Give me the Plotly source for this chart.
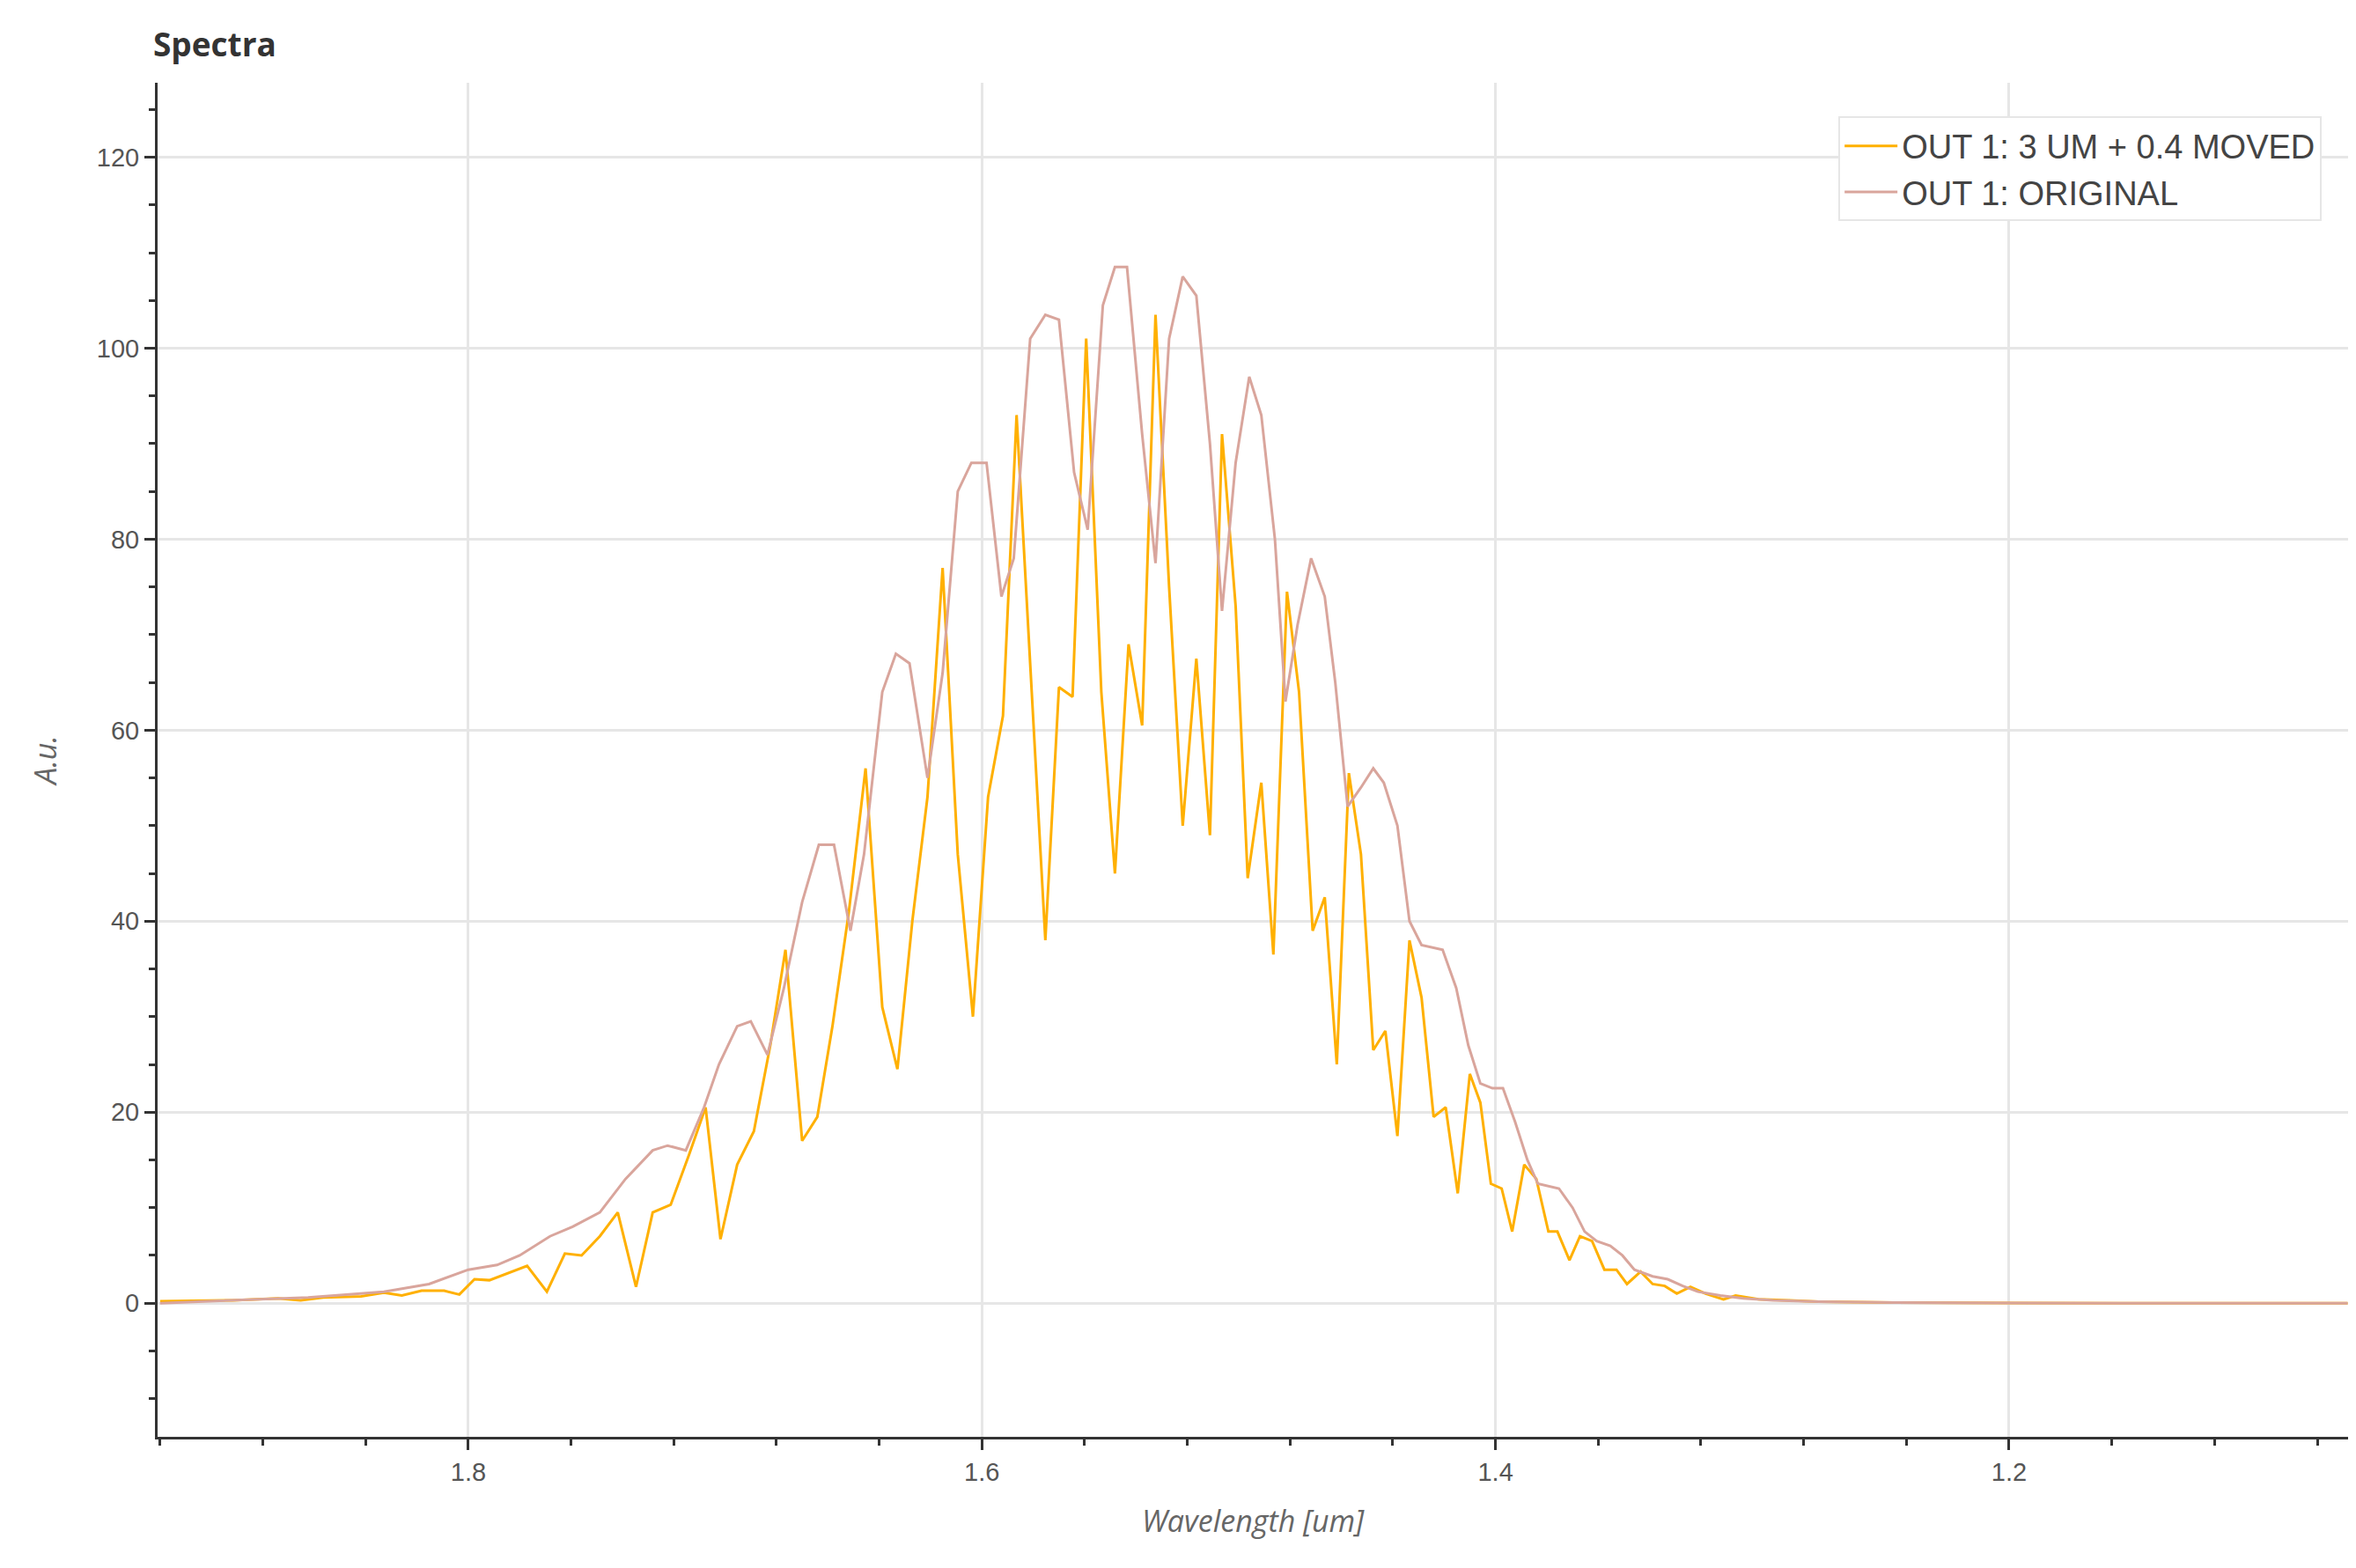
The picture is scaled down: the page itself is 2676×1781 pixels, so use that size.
import plotly.graph_objects as go

wl_orig = [1.92,1.8918,1.8624,1.8329,1.8153,1.8,1.7888,1.78,1.7682,1.7594,1.7488,1.7388,1.7282,1.7224,1.7153,1.7082,1.7024,1.6953,1.69,1.6835,1.6771,1.67,1.6635,1.6576,1.6512,1.6459,1.6388,1.6335,1.6282,1.6212,1.6153,1.6094,1.6041,1.5982,1.5924,1.5876,1.5812,1.5753,1.57,1.5641,1.5588,1.5529,1.5482,1.5435,1.5376,1.5324,1.5271,1.5218,1.5165,1.5112,1.5065,1.5012,1.4959,1.4912,1.4859,1.4818,1.4771,1.4718,1.4665,1.4624,1.4576,1.4524,1.4476,1.4435,1.4382,1.4335,1.4288,1.4206,1.4153,1.4106,1.4059,1.4012,1.3971,1.3924,1.3876,1.3835,1.3753,1.37,1.3653,1.3606,1.3553,1.3506,1.3459,1.3388,1.3329,1.3271,1.3212,1.3124,1.3035,1.2918,1.2741,1.2447,1.2153,1.1565,1.0682]
val_orig = [0,0.3,0.6,1.2,2,3.5,4,5,7,8,9.5,13,16,16.5,16,20.5,25,29,29.5,26,33,42,48,48,39,47,64,68,67,55,66,85,88,88,74,78,101,103.5,103,87,81,104.5,108.5,108.5,91,77.5,101,107.5,105.5,90,72.5,88,97,93,80,63,71,78,74,65,52,54,56,54.5,50,40,37.5,37,33,27,23,22.5,22.5,19,15,12.5,12,10,7.5,6.5,6,5,3.5,2.8,2.5,1.8,1.2,0.8,0.5,0.3,0.15,0.05,0.02,0,0]

wl_moved = [1.92,1.8918,1.8741,1.8653,1.8565,1.8418,1.8329,1.8259,1.8182,1.8094,1.8035,1.7976,1.7918,1.7841,1.7771,1.7694,1.7624,1.7559,1.7488,1.7418,1.7347,1.7282,1.7212,1.7141,1.7076,1.7018,1.6953,1.6888,1.6824,1.6765,1.67,1.6641,1.6582,1.6518,1.6453,1.6388,1.6329,1.6271,1.6212,1.6153,1.6094,1.6035,1.5976,1.5918,1.5865,1.5806,1.5753,1.57,1.5647,1.5594,1.5535,1.5482,1.5429,1.5376,1.5324,1.5271,1.5218,1.5165,1.5112,1.5065,1.5012,1.4965,1.4912,1.4865,1.4812,1.4765,1.4712,1.4665,1.4618,1.4571,1.4524,1.4476,1.4429,1.4382,1.4335,1.4288,1.4241,1.4194,1.4147,1.41,1.4059,1.4018,1.3976,1.3935,1.3888,1.3841,1.3794,1.3759,1.3712,1.3671,1.3624,1.3576,1.3529,1.3488,1.3435,1.3388,1.3341,1.3294,1.3241,1.3182,1.3112,1.3065,1.2976,1.2859,1.2741,1.2447,1.2153,1.1565,1.0682]
val_moved = [0.2,0.3,0.5,0.3,0.6,0.7,1.1,0.8,1.3,1.3,0.9,2.5,2.4,3.2,3.9,1.2,5.2,5.0,7,9.5,1.7,9.5,10.3,15.5,20.5,6.7,14.5,18,27,37,17,19.5,29,41,56,31,24.5,40,53,77,47,30,53,61.5,93,64,38,64.5,63.5,101,64,45,69,60.5,103.5,75,50,67.5,49,91,73,44.5,54.5,36.5,74.5,64,39,42.5,25,55.5,47,26.5,28.5,17.5,38,32,19.5,20.5,11.5,24,21,12.5,12,7.5,14.5,13,7.5,7.5,4.5,7,6.5,3.5,3.5,2,3.3,2,1.8,1,1.7,1,0.4,0.8,0.4,0.3,0.15,0.05,0.02,0,0]

fig = go.Figure()
fig.add_trace(go.Scatter(x=wl_moved, y=val_moved, mode="lines", name="OUT 1: 3 UM + 0.4 MOVED",
                         line=dict(color="#ffb000", width=3)))
fig.add_trace(go.Scatter(x=wl_orig, y=val_orig, mode="lines", name="OUT 1: ORIGINAL",
                         line=dict(color="#d9a59c", width=3)))

axis_common = dict(showline=True, linecolor="#333", linewidth=3, gridcolor="#e6e6e6", gridwidth=2.5,
                   zeroline=False, ticks="outside", tickcolor="#333", tickwidth=2.5, ticklen=12,
                   tickfont=dict(family="Liberation Sans", size=29, color="#555"))
fig.update_layout(
    width=2676, height=1781, plot_bgcolor="white", paper_bgcolor="white",
    margin=dict(l=171, r=17, t=86, b=157),
    title=dict(text="<b>Spectra</b>", x=0.062, xanchor="left", y=0.976, yanchor="middle",
               font=dict(family="Open Sans", size=37, color="#333")),
    legend=dict(x=0.988, xanchor="right", y=0.975, yanchor="top", bgcolor="white",
                bordercolor="#e6e6e6", borderwidth=2,
                font=dict(family="Liberation Sans", size=38, color="#444"),
                itemwidth=60, tracegroupgap=22, entrywidthmode="pixels"),
    xaxis=dict(range=[1.921, 1.068], tickvals=[1.8, 1.6, 1.4, 1.2],
               minor=dict(dtick=0.04, tick0=1.8, ticks="outside", ticklen=7, tickcolor="#333", showgrid=False),
               title=dict(text="<i>Wavelength [um]</i>", font=dict(family="Open Sans", size=34, color="#666"), standoff=30),
               **axis_common),
    yaxis=dict(range=[-14, 127.8], tickvals=[0, 20, 40, 60, 80, 100, 120],
               minor=dict(dtick=5, tick0=0, ticks="outside", ticklen=7, tickcolor="#333", showgrid=False),
               title=dict(text="<i>A.u.</i>", font=dict(family="Open Sans", size=34, color="#666"), standoff=35),
               **axis_common),
)
fig.write_html("out.html")
